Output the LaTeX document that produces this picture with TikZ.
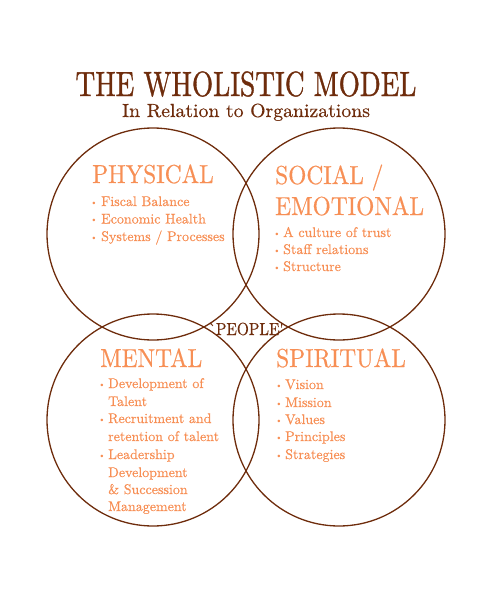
\documentclass[tikz,border=0pt]{standalone}
\usepackage{fontspec}
\usepackage{graphicx}
\newfontfamily\heavyfont{lmroman10-regular}[Extension=.otf, FakeBold=1.1]
\newfontfamily\midfont{lmroman10-regular}[Extension=.otf, FakeBold=0.5]
\definecolor{brownc}{HTML}{6E2C0C}
\definecolor{orangec}{HTML}{F78F55}
\tikzset{
  ring/.style={draw=brownc, line width=1.3pt},
  titletxt/.style={inner sep=0pt, anchor=base, text=brownc},
  headtxt/.style={inner sep=0pt, anchor=base west, text=orangec, font=\midfont\fontsize{26}{30}\selectfont},
  itemtxt/.style={inner sep=0pt, anchor=base west, text=orangec, font=\midfont\fontsize{14}{17}\selectfont},
  bultxt/.style={inner sep=0pt, anchor=base, text=orangec, font=\fontsize{9}{10}\selectfont}
}
\newcommand{\hs}[1]{\scalebox{0.9}[1]{#1}}
\begin{document}
\begin{tikzpicture}[x=1pt,y=-1pt]
\useasboundingbox (0,0) rectangle (500,600);
% circles
\draw[ring] (153,234) circle[radius=106];
\draw[ring] (339,234) circle[radius=106];
\draw[ring] (153,420) circle[radius=106];
\draw[ring] (339,420) circle[radius=106];
% title
\node[titletxt, font=\heavyfont\fontsize{35}{40}\selectfont] (title) at (246,96) {\scalebox{0.78}[1]{THE WHOLISTIC MODEL}};
\node[titletxt, font=\midfont\fontsize{19}{22}\selectfont] (subtitle) at (246,117) {\scalebox{1.04}[1]{In Relation to Organizations}};
\node[titletxt, font=\midfont\fontsize{17.5}{20}\selectfont] (people) at (246,335) {\scalebox{0.88}[1]{`PEOPLE'}};
% PHYSICAL
\node[headtxt] (physical) at (92,183) {\hs{PHYSICAL}};
\node[bultxt] (pb1) at (94,205) {\textbullet};
\node[itemtxt] (p1) at (101,206) {Fiscal Balance};
\node[bultxt] (pb2) at (94,222.5) {\textbullet};
\node[itemtxt] (p2) at (101,223.5) {Economic Health};
\node[bultxt] (pb3) at (94,240) {\textbullet};
\node[itemtxt] (p3) at (101,241) {Systems / Processes};
% SOCIAL
\node[headtxt] (social) at (275,184) {\hs{SOCIAL /}};
\node[headtxt] (emotional) at (275,215) {\hs{EMOTIONAL}};
\node[bultxt] (sb1) at (277,236) {\textbullet};
\node[itemtxt] (s1) at (283,237) {A culture of trust};
\node[bultxt] (sb2) at (277,253) {\textbullet};
\node[itemtxt] (s2) at (283,254) {Staff relations};
\node[bultxt] (sb3) at (277,270) {\textbullet};
\node[itemtxt] (s3) at (283,271) {Structure};
% MENTAL
\node[headtxt] (mental) at (100,367) {\hs{MENTAL}};
\node[bultxt] (mb1) at (102,387) {\textbullet};
\node[itemtxt] (m1) at (108,388) {Development of};
\node[itemtxt] (m1b) at (108,406) {Talent};
\node[bultxt] (mb2) at (102,422) {\textbullet};
\node[itemtxt] (m2) at (108,423) {Recruitment and};
\node[itemtxt] (m2b) at (108,441) {retention of talent};
\node[bultxt] (mb3) at (102,458) {\textbullet};
\node[itemtxt] (m3) at (108,459) {Leadership};
\node[itemtxt] (m3b) at (108,477) {Development};
\node[itemtxt] (m3c) at (108,494) {\& Succession};
\node[itemtxt] (m3d) at (108,511) {Management};
% SPIRITUAL
\node[headtxt] (spiritual) at (276,367) {\hs{SPIRITUAL}};
\node[bultxt] (rb1) at (279,388) {\textbullet};
\node[itemtxt] (r1) at (285,389) {Vision};
\node[bultxt] (rb2) at (279,406) {\textbullet};
\node[itemtxt] (r2) at (285,407) {Mission};
\node[bultxt] (rb3) at (279,423) {\textbullet};
\node[itemtxt] (r3) at (285,424) {Values};
\node[bultxt] (rb4) at (279,440) {\textbullet};
\node[itemtxt] (r4) at (285,441) {Principles};
\node[bultxt] (rb5) at (279,458) {\textbullet};
\node[itemtxt] (r5) at (285,459) {Strategies};
\end{tikzpicture}
\end{document}
